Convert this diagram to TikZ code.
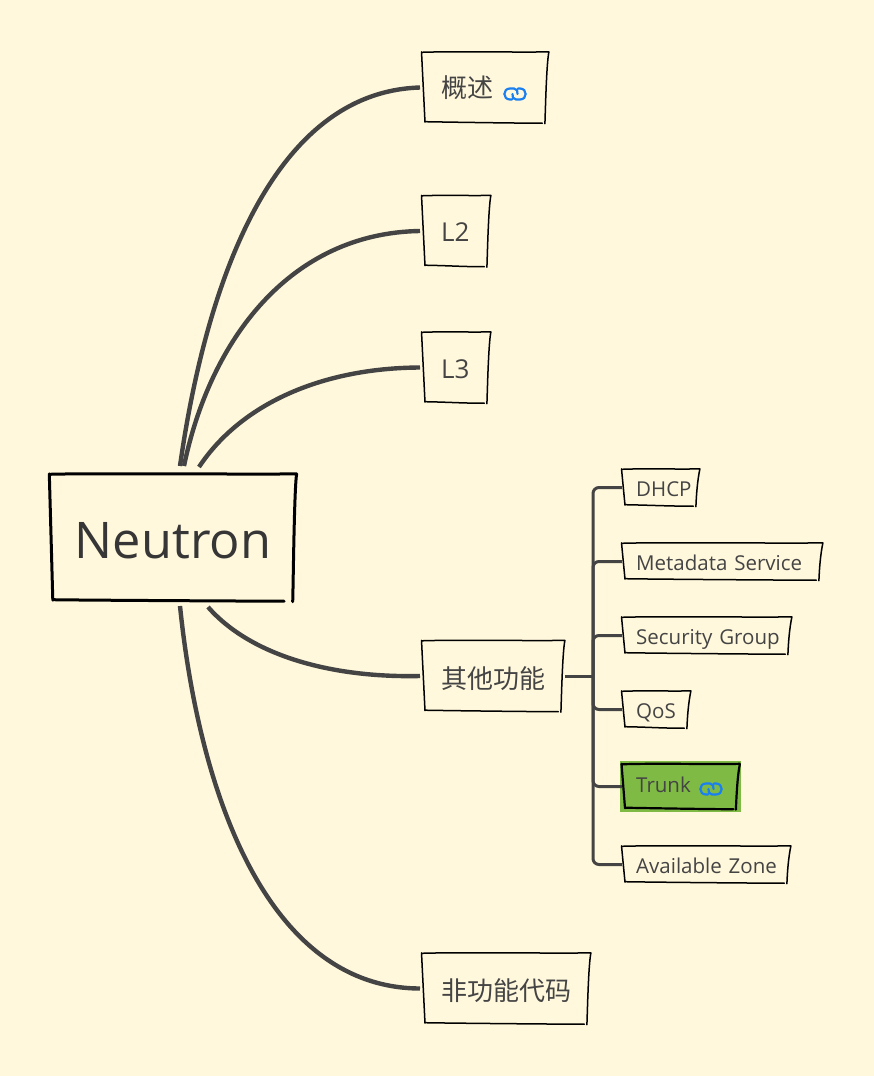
\documentclass[tikz,border=0pt]{standalone}
\usepackage{fontspec}
\setmainfont{Open Sans}
\newfontfamily\cjk{Noto Sans CJK SC}
\usetikzlibrary{positioning}
\definecolor{paper}{HTML}{FFF8DC}
\definecolor{ink}{HTML}{444444}
\definecolor{linkblue}{HTML}{1A7FF0}
\definecolor{leafgreen}{HTML}{7FBA44}

% hand drawn outline round a node, #3 is how far short the bottom stroke stops
\newcommand{\sketchbox}[3][1.5pt]{
  \draw[line width=#1, line cap=round, black]
    ([shift={(-0.5,0.5)}]#2.north west) .. controls ([shift={(40,-0.8)}]#2.north west) and ([shift={(-30,0.8)}]#2.north east) .. ([shift={(0.5,0)}]#2.north east)
    ([shift={(-0.5,0)}]#2.north west) -- ([shift={(3,-1)}]#2.south west)
    ([shift={(3,-1.5)}]#2.south west) .. controls ([shift={(30,-1)}]#2.south west) and ([shift={(-30,0)}]#2.south east) .. ([shift={(-#3,0)}]#2.south east)
    ([shift={(0.5,0)}]#2.north east) .. controls ([shift={(-2,12)}]#2.north east) and ([shift={(-3,-12)}]#2.south east) .. ([shift={(-3.5,0.5)}]#2.south east);
}
% the chain mark
\newcommand{\linkmark}[1]{
  \draw[shift={(#1)}, linkblue, line width=2.2pt, line cap=round]
    (-3,5.5) -- (-5,5.5) .. controls (-12.5,5.5) and (-12.5,-5.5) .. (-5,-5.5) -- (-1,-5.5) .. controls (2,-5.5) and (3,-2.5) .. (2.5,0)
    (3,-5.5) -- (5,-5.5) .. controls (12.5,-5.5) and (12.5,5.5) .. (5,5.5) -- (1,5.5) .. controls (-2,5.5) and (-3,2.5) .. (-2.5,0);
}

\begin{document}
\begin{tikzpicture}
  [x=1pt, y=-1pt,
    drop/.style={
      text height=#1, text depth=6pt
    },
    rootbox/.style={
      minimum width=246pt, minimum height=127pt,
      inner sep=0pt, text=ink!80!black, drop=47pt,
      font=\fontsize{50.5}{56}\selectfont
    },
    topic/.style={
      anchor=west, text width=#1, inner xsep=19pt,
      minimum height=71pt, text=ink, drop=27pt,
      font=\fontsize{26}{30}\selectfont
    },
    leaf/.style={
      anchor=west, text width=#1, inner xsep=14pt,
      minimum height=37pt, text=ink, drop=23pt,
      font=\fontsize{20.5}{24}\selectfont
    },
    branch/.style={
      draw=ink, line width=4.4pt
    },
    twig/.style={
      draw=ink, line width=3pt, rounded corners=6pt
    }
  ]
  \fill[paper] (0,0) rectangle (874,1076);
  \useasboundingbox (0,0) rectangle (874,1076);

  \node[rootbox] (root) at (173,537.5) {Neutron};

  \node[topic=88pt, drop=26pt] (intro) at (422,87.5) {\cjk 概述};
  \node[topic=30pt] (ltwo) at (422,231) {L2};
  \node[topic=30pt] (lthree) at (422,367.5) {L3};
  \node[topic=104pt, drop=30pt] (other) at (422,676) {\cjk 其他功能};
  \node[topic=130pt, drop=30pt] (nonfunc) at (422,988.5) {\cjk 非功能代码};

  \fill[leafgreen] (620,761) rectangle (741,812);
  \node[leaf=49pt] (dhcp) at (622,487.5) {DHCP};
  \node[leaf=172pt] (meta) at (622,561.5) {\mbox{Metadata Service}};
  \node[leaf=141pt] (secgroup) at (622,635.5) {\mbox{Security Group}};
  \node[leaf=40pt] (qos) at (622,709.5) {QoS};
  \node[leaf=89pt, minimum height=45pt, drop=17pt] (trunk) at (622,786.5) {Trunk};
  \node[leaf=140pt] (zone) at (622,864.5) {\mbox{Available Zone}};

  \sketchbox[3pt]{root}{12}
  \foreach \n in {intro,ltwo,lthree,other,nonfunc,dhcp,meta,secgroup,qos,zone}
    {\sketchbox{\n}{6}}
  \sketchbox[2.2pt]{trunk}{6}

  \linkmark{515,94}
  \linkmark{711,789}

  % free ends next to the root
  \coordinate (outa) at (180,466);
  \coordinate (outb) at (184,466);
  \coordinate (outc) at (199,467);
  \coordinate (outd) at (208,607);
  \coordinate (oute) at (180,606);
  \coordinate (hub) at (593,676);

  \draw[branch] (outa) .. controls (205,290) and (270,92) .. ([xshift=-2pt]intro.west);
  \draw[branch] (outb) .. controls (210,340) and (290,233) .. ([xshift=-2pt]ltwo.west);
  \draw[branch] (outc) .. controls (240,405) and (320,368) .. ([xshift=-2pt]lthree.west);
  \draw[branch] (outd) .. controls (250,655) and (330,678) .. ([xshift=-2pt]other.west);
  \draw[branch] (oute) .. controls (200,800) and (270,988) .. ([xshift=-2pt]nonfunc.west);

  \draw[twig] ([xshift=1pt]other.east) -- (hub);
  \foreach \n in {dhcp,meta,secgroup,qos,trunk,zone}
    {\draw[twig] (hub) |- (\n.west);}
\end{tikzpicture}
\end{document}
